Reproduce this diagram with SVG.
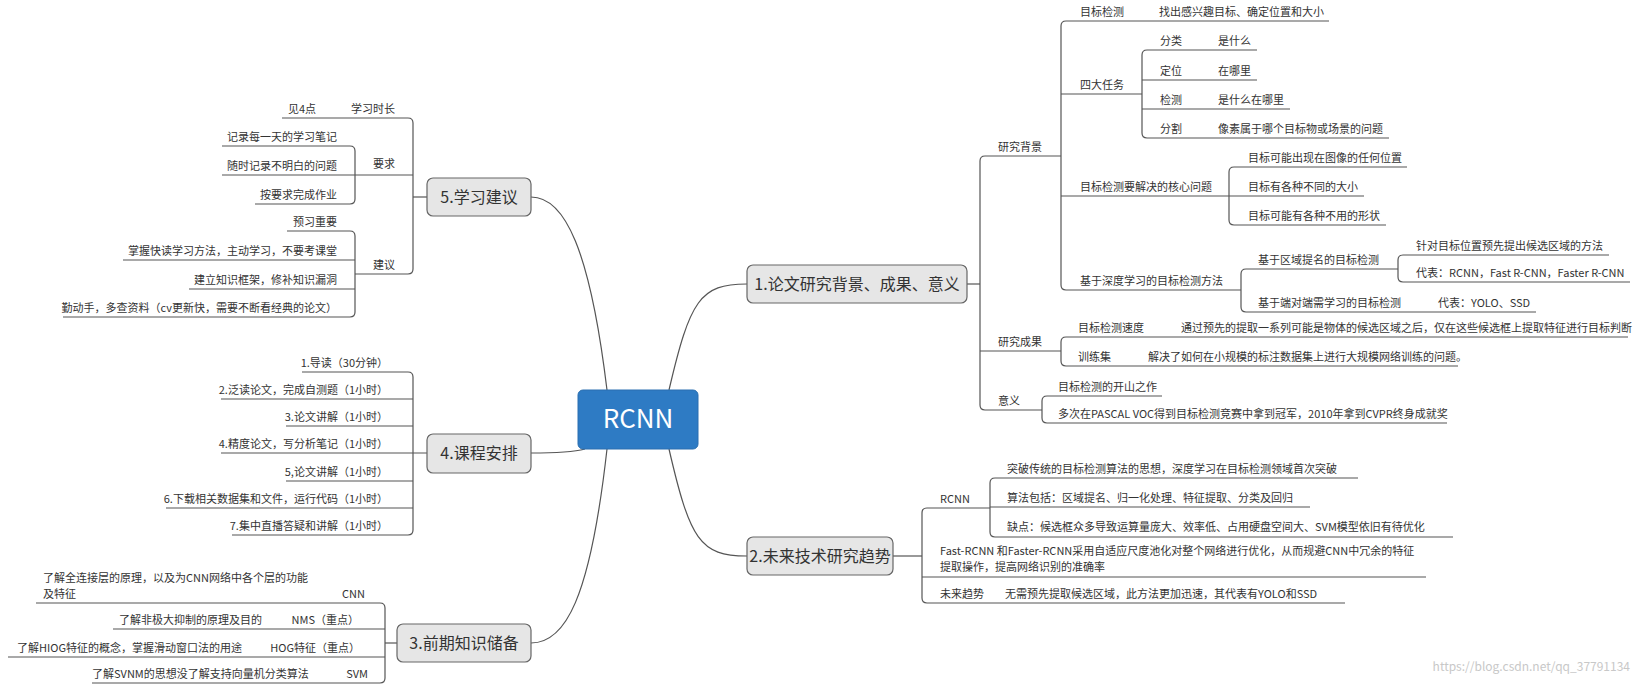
<svg xmlns="http://www.w3.org/2000/svg" width="1638" height="698" viewBox="0 0 1638 698">
<style>
text{font-family:"Microsoft YaHei","Noto Sans CJK SC","Noto Sans",sans-serif;font-size:11px;fill:#333}
.e{text-anchor:end}
.ln{stroke:#555;stroke-width:1.2;fill:none}
.main rect{fill:#e6e6e6;stroke:#666;stroke-width:1.2}
.main text{font-size:16px;text-anchor:middle;fill:#333}
.wm{fill:#c8c8c8;font-size:12px;text-anchor:end}
</style>
<rect width="1638" height="698" fill="#fff"/>
<g id="connectors" class="ln">
<path d="M669,390 C690,300 700,284 747,284"/>
<path d="M669,449 C690,540 700,556 747,556"/>
<path d="M607,390 C590,250 565,197 531,197"/>
<path d="M585,449 C570,453 550,453 531,453"/>
<path d="M607,449 C590,600 565,643 531,643"/>
<path d="M967,284 H980"/>
<path d="M1061,156 H985 Q980,156 980,161 V405 Q980,410 985,410 H1042"/>
<path d="M980,351 H1061"/>
<path d="M1329,21 H1066 Q1061,21 1061,26 V285 Q1061,290 1066,290 H1241"/>
<path d="M1061,94 H1142 M1061,196 H1229"/>
<path d="M1257,50 H1147 Q1142,50 1142,55 V133 Q1142,138 1147,138 H1389"/>
<path d="M1142,80 H1257 M1142,109 H1290"/>
<path d="M1407,167 H1234 Q1229,167 1229,172 V220 Q1229,225 1234,225 H1386"/>
<path d="M1229,196 H1364"/>
<path d="M1398,269 H1246 Q1241,269 1241,274 V307 Q1241,312 1246,312 H1536"/>
<path d="M1609,255 H1403 Q1398,255 1398,260 V277 Q1398,282 1403,282 H1630"/>
<path d="M1628,337 H1066 Q1061,337 1061,342 V361 Q1061,366 1066,366 H1458"/>
<path d="M1162,396 H1047 Q1042,396 1042,401 V418 Q1042,423 1047,423 H1447"/>
<path d="M893,556 H922"/>
<path d="M990,508 H927 Q922,508 922,513 V598 Q922,603 927,603 H1345"/>
<path d="M922,577 H1426"/>
<path d="M1358,478 H995 Q990,478 990,483 V532 Q990,537 995,537 H1453"/>
<path d="M990,507 H1310"/>
<path d="M427,197 H413"/>
<path d="M282,118 H408 Q413,118 413,123 V269 Q413,274 408,274 H355"/>
<path d="M413,175 H222"/>
<path d="M222,146 H350 Q355,146 355,151 V199 Q355,204 350,204 H255"/>
<path d="M287,231 H350 Q355,231 355,236 V312 Q355,317 350,317 H63"/>
<path d="M355,260 H123 M355,289 H189"/>
<path d="M427,453 H221"/>
<path d="M302,372 H408 Q413,372 413,377 V530 Q413,535 408,535 H232"/>
<path d="M413,399 H221 M413,426 H286 M413,481 H286 M413,508 H166"/>
<path d="M397,643 H385"/>
<path d="M36,603 H380 Q385,603 385,608 V678 Q385,683 380,683 H92"/>
<path d="M385,629 H113 M385,657 H8"/>
</g>
<g id="rcnn"><rect x="578" y="390" width="120" height="59" rx="5" fill="#2e7bc4" stroke="#2a6fb0"/><text x="638" y="428" style="font-size:26px;fill:#fff;text-anchor:middle">RCNN</text></g>
<g id="n1" class="main"><rect x="747" y="265" width="220" height="38" rx="6"/><text x="857" y="290">1.论文研究背景、成果、意义</text></g>
<g id="n2" class="main"><rect x="747" y="537" width="146" height="38" rx="6"/><text x="820" y="562">2.未来技术研究趋势</text></g>
<g id="n5" class="main"><rect x="427" y="178" width="104" height="38" rx="6"/><text x="479" y="203">5.学习建议</text></g>
<g id="n4" class="main"><rect x="427" y="434" width="104" height="39" rx="6"/><text x="479" y="459">4.课程安排</text></g>
<g id="n3" class="main"><rect x="397" y="624" width="134" height="38" rx="6"/><text x="464" y="649">3.前期知识储备</text></g>
<g id="n1-children">
<text x="998" y="151">研究背景</text>
<text x="998" y="346">研究成果</text>
<text x="998" y="405">意义</text>
<text x="1080" y="16">目标检测</text><text x="1159" y="16">找出感兴趣目标、确定位置和大小</text>
<text x="1080" y="89">四大任务</text>
<text x="1160" y="45">分类</text><text x="1218" y="45">是什么</text>
<text x="1160" y="75">定位</text><text x="1218" y="75">在哪里</text>
<text x="1160" y="104">检测</text><text x="1218" y="104">是什么在哪里</text>
<text x="1160" y="133">分割</text><text x="1218" y="133">像素属于哪个目标物或场景的问题</text>
<text x="1080" y="191">目标检测要解决的核心问题</text>
<text x="1248" y="162">目标可能出现在图像的任何位置</text>
<text x="1248" y="191">目标有各种不同的大小</text>
<text x="1248" y="220">目标可能有各种不用的形状</text>
<text x="1080" y="285">基于深度学习的目标检测方法</text>
<text x="1258" y="264">基于区域提名的目标检测</text>
<text x="1416" y="250">针对目标位置预先提出候选区域的方法</text>
<text x="1416" y="277">代表：RCNN，Fast R-CNN，Faster R-CNN</text>
<text x="1258" y="307">基于端对端需学习的目标检测</text><text x="1438" y="307">代表：YOLO、SSD</text>
<text x="1078" y="332">目标检测速度</text><text x="1181" y="332">通过预先的提取一系列可能是物体的候选区域之后，仅在这些候选框上提取特征进行目标判断</text>
<text x="1078" y="361">训练集</text><text x="1148" y="361">解决了如何在小规模的标注数据集上进行大规模网络训练的问题。</text>
<text x="1058" y="391">目标检测的开山之作</text>
<text x="1058" y="418">多次在PASCAL VOC得到目标检测竞赛中拿到冠军，2010年拿到CVPR终身成就奖</text>
</g>
<g id="n2-children">
<text x="940" y="503">RCNN</text>
<text x="1007" y="473">突破传统的目标检测算法的思想，深度学习在目标检测领域首次突破</text>
<text x="1007" y="502">算法包括：区域提名、归一化处理、特征提取、分类及回归</text>
<text x="1007" y="531">缺点：候选框众多导致运算量庞大、效率低、占用硬盘空间大、SVM模型依旧有待优化</text>
<text x="940" y="555">Fast-RCNN 和Faster-RCNN采用自适应尺度池化对整个网络进行优化，从而规避CNN中冗余的特征</text>
<text x="940" y="571">提取操作，提高网络识别的准确率</text>
<text x="940" y="598">未来趋势</text><text x="1005" y="598">无需预先提取候选区域，此方法更加迅速，其代表有YOLO和SSD</text>
</g>
<g id="n5-children">
<text class="e" x="395" y="113">学习时长</text><text x="288" y="113">见4点</text>
<text class="e" x="395" y="168">要求</text>
<text class="e" x="337" y="141">记录每一天的学习笔记</text>
<text class="e" x="337" y="170">随时记录不明白的问题</text>
<text class="e" x="337" y="199">按要求完成作业</text>
<text class="e" x="395" y="269">建议</text>
<text class="e" x="337" y="226">预习重要</text>
<text class="e" x="337" y="255">掌握快读学习方法，主动学习，不要考课堂</text>
<text class="e" x="337" y="284">建立知识框架，修补知识漏洞</text>
<text class="e" x="337" y="312">勤动手，多查资料（cv更新快，需要不断看经典的论文）</text>
</g>
<g id="n4-children">
<text class="e" x="388" y="367">1.导读（30分钟）</text>
<text class="e" x="388" y="394">2.泛读论文，完成自测题（1小时）</text>
<text class="e" x="388" y="421">3.论文讲解（1小时）</text>
<text class="e" x="388" y="448">4.精度论文，写分析笔记（1小时）</text>
<text class="e" x="388" y="476">5,论文讲解（1小时）</text>
<text class="e" x="388" y="503">6.下载相关数据集和文件，运行代码（1小时）</text>
<text class="e" x="388" y="530">7.集中直播答疑和讲解（1小时）</text>
</g>
<g id="n3-children">
<text class="e" x="365" y="598">CNN</text>
<text x="43" y="582">了解全连接层的原理，以及为CNN网络中各个层的功能</text>
<text x="43" y="598">及特征</text>
<text class="e" x="359" y="624">NMS（重点）</text><text class="e" x="262" y="624">了解非极大抑制的原理及目的</text>
<text class="e" x="360" y="652">HOG特征（重点）</text><text x="17" y="652">了解HIOG特征的概念，掌握滑动窗口法的用途</text>
<text class="e" x="368" y="678">SVM</text><text x="92" y="678">了解SVNM的思想没了解支持向量机分类算法</text>
</g>
<text class="wm" x="1630" y="671">https://blog.csdn.net/qq_37791134</text>
</svg>
